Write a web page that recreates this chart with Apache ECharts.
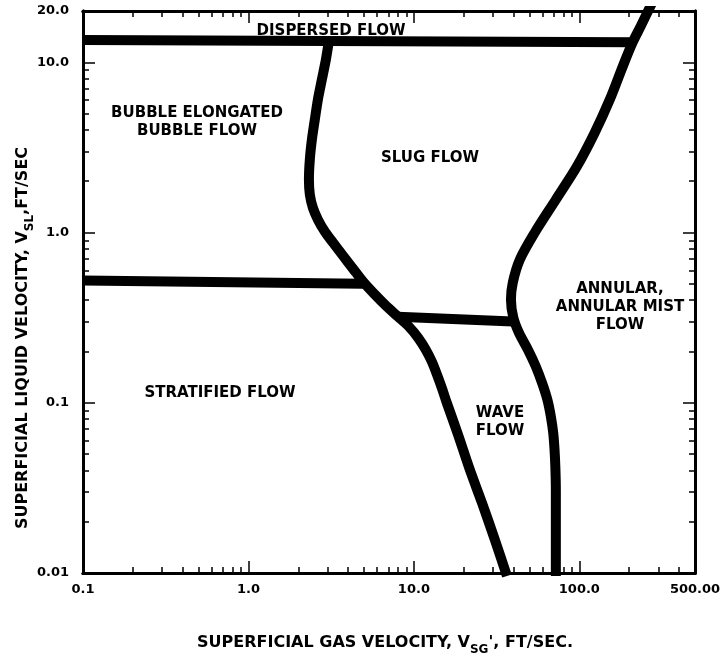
<!DOCTYPE html>
<html><head><meta charset="utf-8">
<script src="https://cdn.jsdelivr.net/npm/echarts@6/dist/echarts.min.js"></script>
<style>html,body{margin:0;padding:0;background:#fff}#c{width:725px;height:670px}</style>
</head><body><div id="c"></div>
<script>
// ---- axis ticks / labels ----
const xLabelValues = [0.1, 1, 10, 100, 500];
const xLabelTexts = ['0.1', '1.0', '10.0', '100.0', '500.00'];
const xMajorTicks = [1, 10, 100];
const xMinorTicks = [0.2, 0.3, 0.4, 0.5, 0.6, 0.7, 0.8, 0.9, 2, 3, 4, 5, 6, 7, 8, 9, 20, 30, 40, 50, 60, 70, 80, 90, 200, 300, 400];
const yLabelValues = [0.01, 0.1, 1, 10, 20];
const yLabelTexts = ['0.01', '0.1', '1.0', '10.0', '20.0'];
const yMajorTicks = [0.1, 1, 10];
const yMinorTicks = [0.02, 0.03, 0.04, 0.05, 0.06, 0.07, 0.08, 0.09, 0.2, 0.3, 0.4, 0.5, 0.6, 0.7, 0.8, 0.9, 2, 3, 4, 5, 6, 7, 8, 9];

// ---- flow-regime boundaries [V_SG, V_SL] ----
const dispersedBoundary = [[0.1, 13.5], [210, 13.1]];
const slugLeftBoundary = [[3.07, 13.5], [2.94, 10.4], [2.78, 7.94], [2.63, 6.06], [2.52, 4.62], [2.42, 3.53], [2.35, 2.69], [2.32, 2.05], [2.35, 1.67], [2.45, 1.40], [2.63, 1.19], [2.90, 1.01], [3.24, 0.873], [3.72, 0.732], [4.28, 0.614], [4.92, 0.515], [5.73, 0.438], [6.77, 0.372], [8.0, 0.321], [9.33, 0.280], [10.6, 0.241], [11.8, 0.205], [12.85, 0.174], [13.8, 0.146], [14.8, 0.121], [15.8, 0.100], [18.5, 0.0648], [21.8, 0.0403], [25.8, 0.0258], [30.9, 0.0156], [36.5, 0.0096]];
const stratifiedBoundary = [[0.1, 0.523], [4.92, 0.50]];
const waveBoundary = [[8.0, 0.32], [39.6, 0.300]];
const annularBoundary = [[282, 23.5], [235, 16.3], [210, 13.1], [183, 9.47], [153, 6.06], [124, 3.87], [96.6, 2.44], [72.1, 1.56], [53.8, 1.0], [43.7, 0.694], [39.6, 0.508], [38.6, 0.404], [39.9, 0.316], [43.1, 0.258], [48.9, 0.205], [54.6, 0.163], [59.8, 0.129], [64.1, 0.104], [67.3, 0.0827], [69.5, 0.0666], [70.8, 0.0529], [71.6, 0.0420], [72.1, 0.0308], [72.1, 0.0096]];

// ---- region labels ----
const regionLabels = ['DISPERSED FLOW', 'BUBBLE ELONGATED\nBUBBLE FLOW', 'SLUG FLOW', 'ANNULAR,\nANNULAR MIST\nFLOW', 'STRATIFIED FLOW', 'WAVE\nFLOW'];
const regionLabelPos = [[331, 31], [197, 122], [430, 158], [620, 307], [220, 393], [500, 422]];

const FONT = 'DejaVu Sans';
function fmt(values, texts) {
  return function (v) {
    const i = values.findIndex(t => Math.abs(Math.log10(t) - Math.log10(v)) < 1e-6);
    return i >= 0 ? texts[i] : '';
  };
}
function xAx(pos, ticks, len, labels) {
  return {
    type: 'log', logBase: 10, min: 0.1, max: 500, position: pos,
    axisLine: { show: true, onZero: false, lineStyle: { color: '#000', width: 3 } },
    axisTick: { show: true, inside: true, length: len, customValues: ticks, lineStyle: { color: '#000', width: 1.5 } },
    axisLabel: labels ? { show: true, customValues: xLabelValues, formatter: fmt(xLabelValues, xLabelTexts), margin: 10, color: '#000', fontFamily: FONT, fontWeight: 'bold', fontSize: 13 } : { show: false },
    splitLine: { show: false }, minorTick: { show: false }, minorSplitLine: { show: false }
  };
}
function yAx(pos, ticks, len, labels) {
  return {
    type: 'log', logBase: 10, min: 0.01, max: 20, position: pos,
    axisLine: { show: true, onZero: false, lineStyle: { color: '#000', width: 3 } },
    axisTick: { show: true, inside: true, length: len, customValues: ticks, lineStyle: { color: '#000', width: 1.5 } },
    axisLabel: labels ? { show: true, customValues: yLabelValues, formatter: fmt(yLabelValues, yLabelTexts), margin: 14, color: '#000', fontFamily: FONT, fontWeight: 'bold', fontSize: 13 } : { show: false },
    splitLine: { show: false }, minorTick: { show: false }, minorSplitLine: { show: false }
  };
}
function boundary(data, smooth) {
  return {
    type: 'line', xAxisIndex: 0, yAxisIndex: 0, data: data, smooth: smooth,
    showSymbol: false, symbol: 'none', silent: true, animation: false,
    lineStyle: { color: '#000', width: 10, cap: 'butt', join: 'round' }
  };
}
const textBase = { fill: '#000', fontFamily: FONT, fontWeight: 'bold', fontSize: 15, align: 'center', verticalAlign: 'middle', lineHeight: 18 };
const graphics = regionLabels.map((t, i) => ({
  type: 'text', x: regionLabelPos[i][0], y: regionLabelPos[i][1],
  style: Object.assign({ text: t }, textBase)
}));
const richAxis = {
  n: { fontFamily: FONT, fontWeight: 'bold', fontSize: 16, lineHeight: 25, fill: '#000' },
  s: { fontFamily: FONT, fontWeight: 'bold', fontSize: 12, lineHeight: 12, verticalAlign: 'bottom', fill: '#000' }
};
graphics.push({
  type: 'text', x: 385, y: 643,
  style: { text: '{n|SUPERFICIAL GAS VELOCITY, V}{s|SG}{n|\', FT/SEC.}', rich: richAxis, align: 'center', verticalAlign: 'middle' }
});
graphics.push({
  type: 'text', x: 23, y: 338, rotation: Math.PI / 2,
  style: { text: '{n|SUPERFICIAL LIQUID VELOCITY, V}{s|SL}{n|,FT/SEC}', rich: richAxis, align: 'center', verticalAlign: 'middle' }
});

const chart = echarts.init(document.getElementById('c'), null, { renderer: 'canvas' });
chart.setOption({
  animation: false,
  backgroundColor: '#fff',
  grid: { left: 83, right: 30, top: 11, bottom: 97, containLabel: false },
  xAxis: [xAx('bottom', xMajorTicks, 12, true), xAx('bottom', xMinorTicks, 6, false), xAx('top', xMajorTicks, 12, false), xAx('top', xMinorTicks, 6, false)],
  yAxis: [yAx('left', yMajorTicks, 12, true), yAx('left', yMinorTicks, 6, false), yAx('right', yMajorTicks, 12, false), yAx('right', yMinorTicks, 6, false)],
  series: [
    boundary(dispersedBoundary, false),
    boundary(slugLeftBoundary, 0.3),
    boundary(stratifiedBoundary, false),
    boundary(waveBoundary, false),
    boundary(annularBoundary, 0.3)
  ],
  graphic: graphics
});
</script>
</body></html>
